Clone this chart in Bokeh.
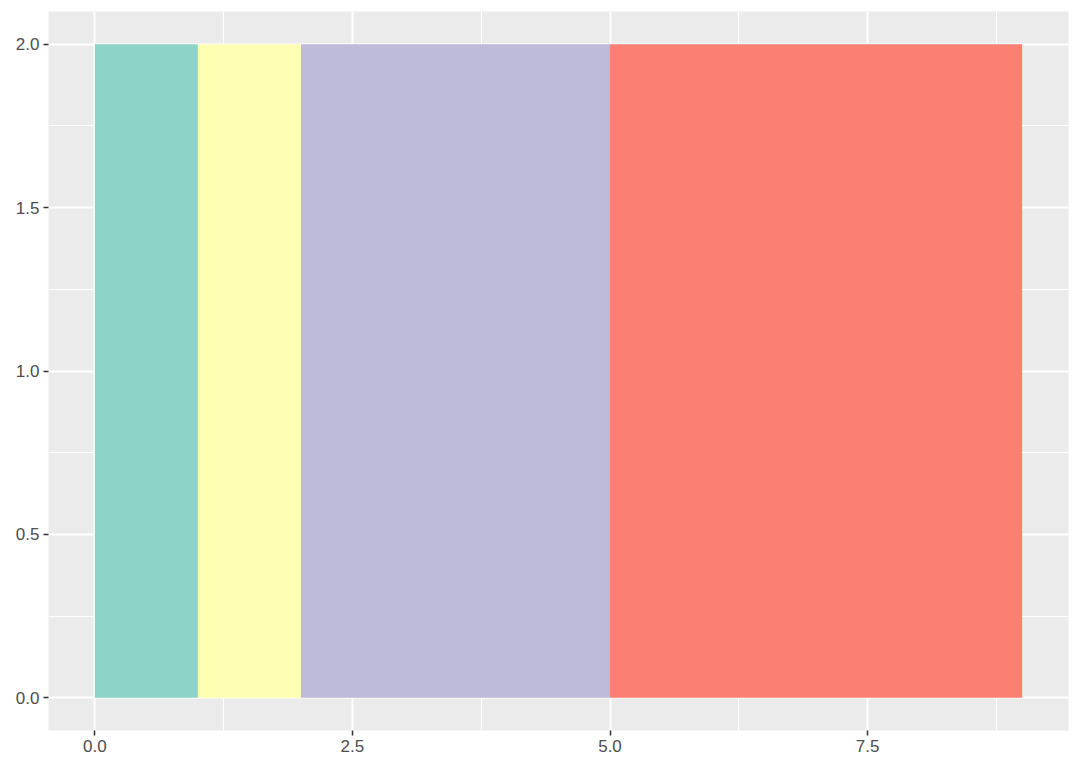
from bokeh.plotting import figure
from bokeh.models import FixedTicker, Range1d, ColumnDataSource
from bokeh.embed import file_html
from bokeh.resources import INLINE

# data
xmin = [0, 1, 2, 5]
xmax = [1, 2, 5, 9]
ymin = [0, 0, 0, 0]
ymax = [2, 2, 2, 2]
colors = ["#8DD3C7", "#FFFFB3", "#BEBADA", "#FB8072"]
x_ticks = [0, 2.5, 5, 7.5]
x_labels = ["0.0", "2.5", "5.0", "7.5"]
x_minor = [-1.25, 1.25, 3.75, 6.25, 8.75]
y_ticks = [0, 0.5, 1.0, 1.5, 2.0]
y_labels = ["0.0", "0.5", "1.0", "1.5", "2.0"]
y_minor = [0.25, 0.75, 1.25, 1.75]

src = ColumnDataSource(dict(left=xmin, right=xmax, bottom=ymin, top=ymax, color=colors))

p = figure(output_backend="svg", toolbar_location=None,
           frame_width=1020, frame_height=719,
           x_range=Range1d(-0.45, 9.45), y_range=Range1d(-0.1, 2.1),
           min_border_left=48, min_border_right=12, min_border_top=11, min_border_bottom=41)
p.background_fill_color = "#EBEBEB"
p.border_fill_color = "white"
p.outline_line_color = None

p.quad(left="left", right="right", bottom="bottom", top="top", fill_color="color",
       line_color=None, source=src)

p.xaxis.ticker = FixedTicker(ticks=x_ticks, minor_ticks=x_minor)
p.yaxis.ticker = FixedTicker(ticks=y_ticks, minor_ticks=y_minor)
p.xaxis.major_label_overrides = {t: l for t, l in zip(x_ticks, x_labels)}
p.yaxis.major_label_overrides = {t: l for t, l in zip(y_ticks, y_labels)}

for ax in (p.xaxis, p.yaxis):
    ax.axis_line_color = None
    ax.major_tick_line_color = "#333333"
    ax.major_tick_line_width = 1.5
    ax.major_tick_in = 0
    ax.major_tick_out = 5
    ax.minor_tick_line_color = None
    ax.major_label_text_color = "#4D4D4D"
    ax.major_label_text_font = "Liberation Sans"
    ax.major_label_text_font_size = "17px"
    ax.major_label_standoff = 4

for g in (p.xgrid, p.ygrid):
    g.grid_line_color = "white"
    g.grid_line_width = 2
    g.minor_grid_line_color = "white"
    g.minor_grid_line_width = 1

open("out.html", "w").write(file_html(p, INLINE))
